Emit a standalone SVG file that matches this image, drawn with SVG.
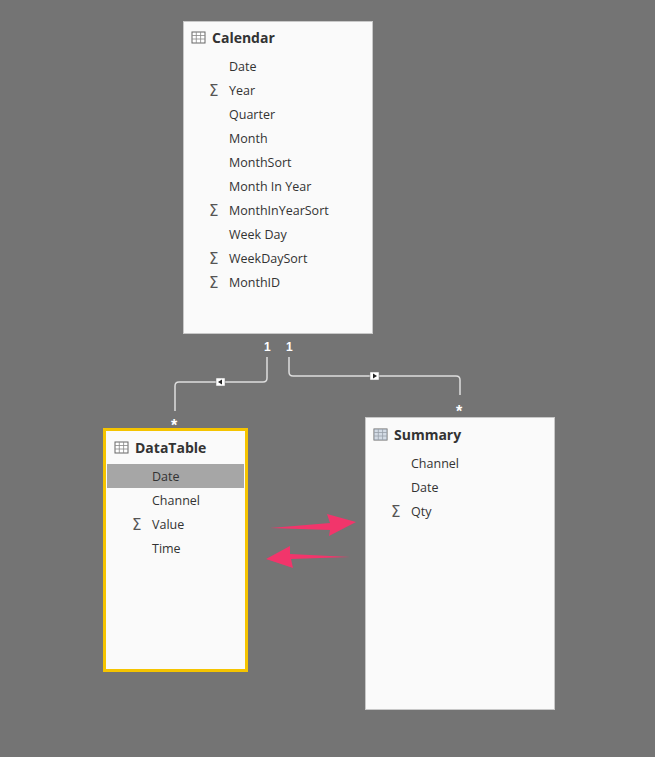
<svg xmlns="http://www.w3.org/2000/svg" width="655" height="757" viewBox="0 0 655 757">
<style>
.box{fill:#fafafa;stroke:#c8c8c8;stroke-width:1}
.t{font-family:"Segoe UI","Open Sans","Liberation Sans",sans-serif;font-size:12.5px;fill:#333}
.h{font-family:"Segoe UI","Open Sans","Liberation Sans",sans-serif;font-size:14px;font-weight:bold;fill:#333}
.s{font-family:"DejaVu Sans",sans-serif;font-size:15px;fill:#555}
.c{font-family:"Liberation Sans",sans-serif;font-size:12px;font-weight:bold;fill:#fff}
.st{font-family:"Liberation Sans",sans-serif;font-size:16px;font-weight:bold;fill:#fff}
.ln{fill:none;stroke:#ddd;stroke-width:1.5}
.ic{fill:#fff;stroke:#666;stroke-width:1}
</style>
<defs>
<g id="icon"><rect class="ic" x="0" y="0" width="13" height="11"/><path d="M0 3.5H13M0 7H13M4.3 0V11M8.6 0V11" stroke="#888" stroke-width="0.8"/></g>
</defs>
<rect width="655" height="757" fill="#747474"/>
<g id="connectors">
<path class="ln" d="M267 357V378Q267 382 263 382H179Q175 382 175 386V411"/>
<rect x="216" y="378" width="9" height="8" fill="#fff" stroke="#777" stroke-width="0.5"/><path d="M218 382L222 379.5V384.5Z" fill="#222"/>
<path class="ln" d="M289 357V372Q289 376 293 376H456Q460 376 460 380V395"/>
<rect x="370" y="372" width="9" height="8" fill="#fff" stroke="#777" stroke-width="0.5"/><path d="M377 376L373 373.5V378.5Z" fill="#222"/>
<text class="c" x="264" y="351">1</text><text class="c" x="286" y="351">1</text>
<text class="st" x="171" y="431">*</text><text class="st" x="456" y="417">*</text>
<path d="M270 528L330 523L327 514L356 522L329 536L330 530Z" fill="#f2356b"/>
<path d="M350 557L291 559L293 568L266 559L290 546L290 554Z" fill="#f2356b"/>
</g>
<g id="calendar">
<rect class="box" x="183.5" y="21.5" width="189" height="312"/>
<use href="#icon" x="192" y="32"/>
<text class="h" x="212" y="43">Calendar</text>
<text class="t" x="229" y="71">Date</text>
<text class="s" x="209" y="96">Σ</text><text class="t" x="229" y="95">Year</text>
<text class="t" x="229" y="119">Quarter</text>
<text class="t" x="229" y="143">Month</text>
<text class="t" x="229" y="167">MonthSort</text>
<text class="t" x="229" y="191">Month In Year</text>
<text class="s" x="209" y="216">Σ</text><text class="t" x="229" y="215">MonthInYearSort</text>
<text class="t" x="229" y="239">Week Day</text>
<text class="s" x="209" y="264">Σ</text><text class="t" x="229" y="263">WeekDaySort</text>
<text class="s" x="209" y="288">Σ</text><text class="t" x="229" y="287">MonthID</text>
</g>
<g id="datatable">
<rect x="104.5" y="429.5" width="142" height="241" fill="#fafafa" stroke="#f5c400" stroke-width="3"/>
<use href="#icon" x="115" y="442"/>
<text class="h" x="135" y="453">DataTable</text>
<rect x="107" y="464" width="137" height="24" fill="#a6a6a6"/>
<text class="t" x="152" y="481">Date</text>
<text class="t" x="152" y="505">Channel</text>
<text class="s" x="132" y="530">Σ</text><text class="t" x="152" y="529">Value</text>
<text class="t" x="152" y="553">Time</text>
</g>
<g id="summary">
<rect class="box" x="365.5" y="417.5" width="189" height="292"/>
<use href="#icon" x="374" y="429"/>
<rect x="374" y="429" width="13" height="11" fill="#a8b8cc" opacity="0.5"/>
<text class="h" x="394" y="440">Summary</text>
<text class="t" x="411" y="468">Channel</text>
<text class="t" x="411" y="492">Date</text>
<text class="s" x="391" y="517">Σ</text><text class="t" x="411" y="516">Qty</text>
</g>
</svg>
